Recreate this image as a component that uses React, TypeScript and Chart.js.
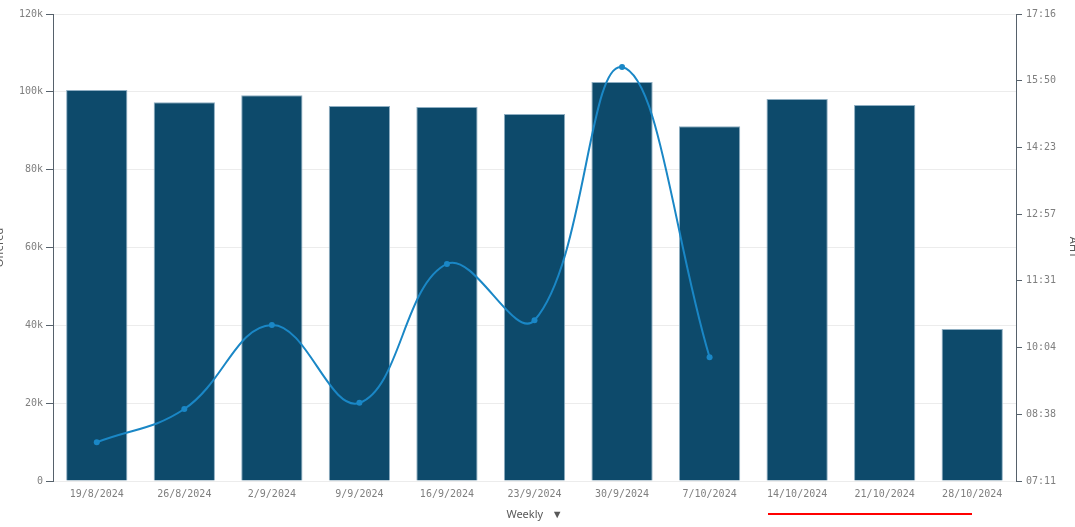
import { useEffect, useRef } from 'react';
import { Chart, registerables } from 'chart.js';

Chart.register(...registerables);

const weeks = [
  '19/8/2024', '26/8/2024', '2/9/2024', '9/9/2024', '16/9/2024', '23/9/2024',
  '30/9/2024', '7/10/2024', '14/10/2024', '21/10/2024', '28/10/2024',
];
const offered = [100470, 97320, 99100, 96360, 96100, 94300, 102530, 91160, 98160, 96620, 39060];
const aht: (string | null)[] = [
  '08:02', '08:45', '10:34', '08:53', '11:53', '10:40', '16:08', '09:52', null, null, null,
];
const offeredTickLabels = ['0', '20k', '40k', '60k', '80k', '100k', '120k'];
const ahtTickLabels = ['07:11', '08:38', '10:04', '11:31', '12:57', '14:23', '15:50', '17:16'];
const ahtAxisMin = 431.78; // minutes
const ahtAxisMax = 1036.78; // minutes

const toMinutes = (s: string | null) => {
  if (s === null) return null;
  const [h, m] = s.split(':').map(Number);
  return h * 60 + m;
};

const TICK_FONT = { family: 'DejaVu Sans Mono', size: 10 };
const TITLE_FONT = { family: 'Noto Sans', size: 11 };
const TICK_COLOR = '#7f7f7f';
const AXIS_COLOR = '#56616b';

export default function App() {
  const ref = useRef<HTMLCanvasElement>(null);

  useEffect(() => {
    if (!ref.current) return;
    const chart = new Chart(ref.current, {
      data: {
        labels: weeks,
        datasets: [
          {
            type: 'line',
            label: 'AHT',
            data: aht.map(toMinutes),
            yAxisID: 'yRight',
            borderColor: '#1a87c6',
            backgroundColor: '#1a87c6',
            borderWidth: 2,
            pointRadius: 3,
            pointBackgroundColor: '#1a87c6',
            pointBorderWidth: 0,
            tension: 0.4,
            spanGaps: false,
            order: 0,
          },
          {
            type: 'bar',
            label: 'Offered',
            data: offered,
            yAxisID: 'y',
            backgroundColor: '#0d4a6b',
            borderColor: '#8eaec2',
            borderWidth: 1,
            barPercentage: 0.7,
            categoryPercentage: 1.0,
            order: 1,
          },
        ],
      },
      options: {
        animation: false,
        responsive: true,
        maintainAspectRatio: false,
        layout: { padding: { top: 14, left: 0, right: 0, bottom: 0 } },
        plugins: { legend: { display: false }, tooltip: { enabled: false } },
        scales: {
          x: {
            grid: { display: false, drawTicks: false },
            border: { display: false },
            ticks: {
              font: TICK_FONT,
              color: TICK_COLOR,
              padding: 7,
              maxRotation: 0,
              autoSkip: false,
            },
            title: {
              display: true,
              text: 'Weekly   ▼',
              font: TITLE_FONT,
              color: '#595959',
              padding: { top: 0, bottom: 5.4 },
            },
            afterFit: (s: any) => {
              s.height = 46;
            },
          },
          y: {
            position: 'left',
            min: 0,
            max: 120000,
            ticks: {
              stepSize: 20000,
              font: TICK_FONT,
              color: TICK_COLOR,
              padding: 3,
              callback: (_v: any, i: number) => offeredTickLabels[i],
            },
            grid: {
              color: '#ececec',
              tickColor: AXIS_COLOR,
              tickLength: 7,
              lineWidth: 1,
            },
            border: { display: true, color: AXIS_COLOR, width: 1 },
            title: {
              display: true,
              text: 'Offered',
              font: TITLE_FONT,
              color: '#595959',
              padding: { top: -6.6, bottom: 0 },
            },
            afterFit: (s: any) => {
              s.width = 53;
            },
          },
          yRight: {
            position: 'right',
            min: ahtAxisMin,
            max: ahtAxisMax,
            afterBuildTicks: (s: any) => {
              const n = ahtTickLabels.length - 1;
              s.ticks = ahtTickLabels.map((_, i) => ({
                value: ahtAxisMin + (i * (ahtAxisMax - ahtAxisMin)) / n,
              }));
            },
            ticks: {
              font: TICK_FONT,
              color: TICK_COLOR,
              padding: 4,
              autoSkip: false,
              callback: (_v: any, i: number) => ahtTickLabels[i],
            },
            grid: {
              drawOnChartArea: false,
              tickColor: AXIS_COLOR,
              tickLength: 6,
            },
            border: { display: true, color: AXIS_COLOR, width: 1 },
            title: {
              display: true,
              text: 'AHT',
              font: TITLE_FONT,
              color: '#595959',
              padding: { top: -5.1, bottom: 0 },
            },
            afterFit: (s: any) => {
              s.width = 59;
            },
          },
        },
      } as any,
    });
    return () => chart.destroy();
  }, []);

  return (
    <div style={{ position: 'absolute', left: 0, top: 0, width: 1075, height: 527 }}>
      <canvas ref={ref} />
      <div
        style={{
          position: 'absolute',
          left: 768,
          top: 513,
          width: 204,
          height: 2,
          background: '#ff0000',
        }}
      />
    </div>
  );
}
